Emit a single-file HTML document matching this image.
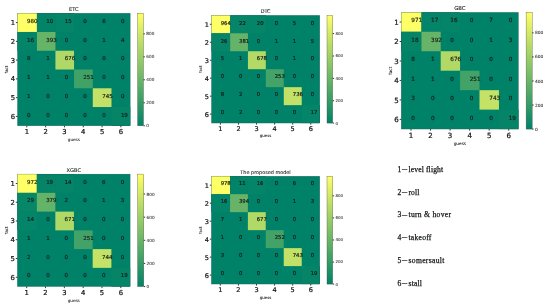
<!DOCTYPE html>
<html lang="en"><head><meta charset="utf-8"><title>Confusion matrices</title>
<style>html,body{margin:0;padding:0;background:#fff}body{width:550px;height:307px;overflow:hidden}svg{display:block}text{font-family:"DejaVu Sans","Liberation Sans",sans-serif;fill:#151c19;stroke:#151c19;stroke-width:0.17px}.c{stroke-width:0.06px;fill:#2a2a2a;stroke:#2a2a2a}.k{stroke-width:0.24px}.t{stroke-width:0.08px}.lg{font-family:"Liberation Serif","DejaVu Serif",serif;fill:#111;stroke-width:0.25px}</style></head><body>
<svg width="550" height="307" viewBox="0 0 550 307">
<defs><linearGradient id="sm" x1="0" y1="1" x2="0" y2="0"><stop offset="0" stop-color="#008268"/><stop offset="1" stop-color="#ffff66"/></linearGradient></defs>
<rect width="550" height="307" fill="#fff"/>
<g>
<rect x="17.40" y="13.20" width="112.90" height="112.60" fill="#008268"/>
<rect x="17.40" y="13.20" width="19.52" height="18.77" fill="#ffff66"/>
<rect x="36.92" y="13.20" width="18.52" height="18.77" fill="#038368"/>
<rect x="55.43" y="13.20" width="18.62" height="18.77" fill="#048468"/>
<rect x="17.40" y="31.97" width="19.52" height="18.77" fill="#048468"/>
<rect x="36.92" y="31.97" width="18.52" height="18.77" fill="#66b468"/>
<rect x="55.43" y="50.73" width="18.62" height="18.77" fill="#b0d866"/>
<rect x="74.05" y="69.50" width="18.72" height="18.77" fill="#41a268"/>
<rect x="92.77" y="88.27" width="18.72" height="18.77" fill="#c2e166"/>
<rect x="111.48" y="107.03" width="18.82" height="18.77" fill="#058468"/>
<text x="27.11" y="22.83" font-size="5.50">980</text>
<text x="46.23" y="22.83" font-size="5.50">10</text>
<text x="64.69" y="22.83" font-size="5.50">15</text>
<text x="83.36" y="22.83" font-size="5.50">0</text>
<text x="102.17" y="22.83" font-size="5.50">6</text>
<text x="120.89" y="22.83" font-size="5.50">0</text>
<text x="27.11" y="41.60" font-size="5.50">16</text>
<text x="46.23" y="41.60" font-size="5.50">393</text>
<text x="64.69" y="41.60" font-size="5.50">0</text>
<text x="83.36" y="41.60" font-size="5.50">0</text>
<text x="102.17" y="41.60" font-size="5.50">1</text>
<text x="120.89" y="41.60" font-size="5.50">4</text>
<text x="27.11" y="60.37" font-size="5.50">8</text>
<text x="46.23" y="60.37" font-size="5.50">1</text>
<text x="64.69" y="60.37" font-size="5.50">676</text>
<text x="83.36" y="60.37" font-size="5.50">0</text>
<text x="102.17" y="60.37" font-size="5.50">0</text>
<text x="120.89" y="60.37" font-size="5.50">0</text>
<text x="27.11" y="79.13" font-size="5.50">1</text>
<text x="46.23" y="79.13" font-size="5.50">1</text>
<text x="64.69" y="79.13" font-size="5.50">0</text>
<text x="83.36" y="79.13" font-size="5.50">251</text>
<text x="102.17" y="79.13" font-size="5.50">0</text>
<text x="120.89" y="79.13" font-size="5.50">0</text>
<text x="27.11" y="97.90" font-size="5.50">1</text>
<text x="46.23" y="97.90" font-size="5.50">0</text>
<text x="64.69" y="97.90" font-size="5.50">0</text>
<text x="83.36" y="97.90" font-size="5.50">0</text>
<text x="102.17" y="97.90" font-size="5.50">745</text>
<text x="120.89" y="97.90" font-size="5.50">0</text>
<text x="27.11" y="116.67" font-size="5.50">0</text>
<text x="46.23" y="116.67" font-size="5.50">0</text>
<text x="64.69" y="116.67" font-size="5.50">0</text>
<text x="83.36" y="116.67" font-size="5.50">0</text>
<text x="102.17" y="116.67" font-size="5.50">0</text>
<text x="120.89" y="116.67" font-size="5.50">19</text>
<rect x="17.40" y="13.20" width="112.90" height="112.60" fill="none" stroke="#223" stroke-opacity="0.45" stroke-width="0.35"/>
<path d="M15.90 22.58H17.40M26.81 125.80V127.30" stroke="#000" stroke-width="0.8" fill="none"/>
<text x="15.00" y="25.08" font-size="6.79" text-anchor="end" class="k">1</text>
<text x="26.81" y="134.14" font-size="6.79" text-anchor="middle" class="k">1</text>
<path d="M15.90 41.35H17.40M45.62 125.80V127.30" stroke="#000" stroke-width="0.8" fill="none"/>
<text x="15.00" y="43.85" font-size="6.79" text-anchor="end" class="k">2</text>
<text x="45.62" y="134.14" font-size="6.79" text-anchor="middle" class="k">2</text>
<path d="M15.90 60.12H17.40M64.44 125.80V127.30" stroke="#000" stroke-width="0.8" fill="none"/>
<text x="15.00" y="62.61" font-size="6.79" text-anchor="end" class="k">3</text>
<text x="64.44" y="134.14" font-size="6.79" text-anchor="middle" class="k">3</text>
<path d="M15.90 78.88H17.40M83.26 125.80V127.30" stroke="#000" stroke-width="0.8" fill="none"/>
<text x="15.00" y="81.38" font-size="6.79" text-anchor="end" class="k">4</text>
<text x="83.26" y="134.14" font-size="6.79" text-anchor="middle" class="k">4</text>
<path d="M15.90 97.65H17.40M102.07 125.80V127.30" stroke="#000" stroke-width="0.8" fill="none"/>
<text x="15.00" y="100.15" font-size="6.79" text-anchor="end" class="k">5</text>
<text x="102.07" y="134.14" font-size="6.79" text-anchor="middle" class="k">5</text>
<path d="M15.90 116.42H17.40M120.89 125.80V127.30" stroke="#000" stroke-width="0.8" fill="none"/>
<text x="15.00" y="118.91" font-size="6.79" text-anchor="end" class="k">6</text>
<text x="120.89" y="134.14" font-size="6.79" text-anchor="middle" class="k">6</text>
<text x="73.85" y="10.85" font-size="5.12" text-anchor="middle" class="t">ETC</text>
<text x="73.85" y="140.79" font-size="4.10" text-anchor="middle" class="t">guess</text>
<text transform="translate(8.11 69.50) rotate(-90)" font-size="4.10" text-anchor="middle" class="t">fact</text>
<rect x="137.60" y="13.20" width="5.90" height="112.60" fill="url(#sm)" stroke="#4a4a3a" stroke-width="0.35"/>
<path d="M143.50 125.80h1.4" stroke="#000" stroke-width="0.8" fill="none"/>
<text x="146.30" y="127.30" font-size="4.20" class="c">0</text>
<path d="M143.50 102.82h1.4" stroke="#000" stroke-width="0.8" fill="none"/>
<text x="146.30" y="104.32" font-size="4.20" class="c">200</text>
<path d="M143.50 79.84h1.4" stroke="#000" stroke-width="0.8" fill="none"/>
<text x="146.30" y="81.34" font-size="4.20" class="c">400</text>
<path d="M143.50 56.86h1.4" stroke="#000" stroke-width="0.8" fill="none"/>
<text x="146.30" y="58.36" font-size="4.20" class="c">600</text>
<path d="M143.50 33.88h1.4" stroke="#000" stroke-width="0.8" fill="none"/>
<text x="146.30" y="35.38" font-size="4.20" class="c">800</text>
</g>
<g>
<rect x="211.40" y="15.30" width="108.40" height="107.80" fill="#008268"/>
<rect x="211.40" y="15.30" width="18.77" height="17.97" fill="#ffff66"/>
<rect x="230.17" y="15.30" width="17.77" height="17.97" fill="#068568"/>
<rect x="247.93" y="15.30" width="17.87" height="17.97" fill="#058568"/>
<rect x="211.40" y="33.27" width="18.77" height="17.97" fill="#078568"/>
<rect x="230.17" y="33.27" width="17.77" height="17.97" fill="#65b368"/>
<rect x="247.93" y="51.23" width="17.87" height="17.97" fill="#b3da66"/>
<rect x="265.80" y="69.20" width="17.97" height="17.97" fill="#43a368"/>
<rect x="283.77" y="87.17" width="17.97" height="17.97" fill="#c3e166"/>
<rect x="301.73" y="105.13" width="18.07" height="17.97" fill="#048468"/>
<text x="220.73" y="24.53" font-size="5.28">964</text>
<text x="239.10" y="24.53" font-size="5.28">22</text>
<text x="256.82" y="24.53" font-size="5.28">20</text>
<text x="274.73" y="24.53" font-size="5.28">0</text>
<text x="292.80" y="24.53" font-size="5.28">5</text>
<text x="310.77" y="24.53" font-size="5.28">0</text>
<text x="220.73" y="42.50" font-size="5.28">26</text>
<text x="239.10" y="42.50" font-size="5.28">381</text>
<text x="256.82" y="42.50" font-size="5.28">0</text>
<text x="274.73" y="42.50" font-size="5.28">1</text>
<text x="292.80" y="42.50" font-size="5.28">1</text>
<text x="310.77" y="42.50" font-size="5.28">5</text>
<text x="220.73" y="60.47" font-size="5.28">5</text>
<text x="239.10" y="60.47" font-size="5.28">1</text>
<text x="256.82" y="60.47" font-size="5.28">678</text>
<text x="274.73" y="60.47" font-size="5.28">0</text>
<text x="292.80" y="60.47" font-size="5.28">1</text>
<text x="310.77" y="60.47" font-size="5.28">0</text>
<text x="220.73" y="78.43" font-size="5.28">0</text>
<text x="239.10" y="78.43" font-size="5.28">0</text>
<text x="256.82" y="78.43" font-size="5.28">0</text>
<text x="274.73" y="78.43" font-size="5.28">253</text>
<text x="292.80" y="78.43" font-size="5.28">0</text>
<text x="310.77" y="78.43" font-size="5.28">0</text>
<text x="220.73" y="96.40" font-size="5.28">8</text>
<text x="239.10" y="96.40" font-size="5.28">2</text>
<text x="256.82" y="96.40" font-size="5.28">0</text>
<text x="274.73" y="96.40" font-size="5.28">0</text>
<text x="292.80" y="96.40" font-size="5.28">736</text>
<text x="310.77" y="96.40" font-size="5.28">0</text>
<text x="220.73" y="114.37" font-size="5.28">0</text>
<text x="239.10" y="114.37" font-size="5.28">2</text>
<text x="256.82" y="114.37" font-size="5.28">0</text>
<text x="274.73" y="114.37" font-size="5.28">0</text>
<text x="292.80" y="114.37" font-size="5.28">0</text>
<text x="310.77" y="114.37" font-size="5.28">17</text>
<rect x="211.40" y="15.30" width="108.40" height="107.80" fill="none" stroke="#223" stroke-opacity="0.45" stroke-width="0.35"/>
<path d="M209.90 24.28H211.40M220.43 123.10V124.60" stroke="#000" stroke-width="0.8" fill="none"/>
<text x="209.00" y="26.68" font-size="6.52" text-anchor="end" class="k">1</text>
<text x="220.43" y="131.11" font-size="6.52" text-anchor="middle" class="k">1</text>
<path d="M209.90 42.25H211.40M238.50 123.10V124.60" stroke="#000" stroke-width="0.8" fill="none"/>
<text x="209.00" y="44.65" font-size="6.52" text-anchor="end" class="k">2</text>
<text x="238.50" y="131.11" font-size="6.52" text-anchor="middle" class="k">2</text>
<path d="M209.90 60.22H211.40M256.57 123.10V124.60" stroke="#000" stroke-width="0.8" fill="none"/>
<text x="209.00" y="62.61" font-size="6.52" text-anchor="end" class="k">3</text>
<text x="256.57" y="131.11" font-size="6.52" text-anchor="middle" class="k">3</text>
<path d="M209.90 78.18H211.40M274.63 123.10V124.60" stroke="#000" stroke-width="0.8" fill="none"/>
<text x="209.00" y="80.58" font-size="6.52" text-anchor="end" class="k">4</text>
<text x="274.63" y="131.11" font-size="6.52" text-anchor="middle" class="k">4</text>
<path d="M209.90 96.15H211.40M292.70 123.10V124.60" stroke="#000" stroke-width="0.8" fill="none"/>
<text x="209.00" y="98.55" font-size="6.52" text-anchor="end" class="k">5</text>
<text x="292.70" y="131.11" font-size="6.52" text-anchor="middle" class="k">5</text>
<path d="M209.90 114.12H211.40M310.77 123.10V124.60" stroke="#000" stroke-width="0.8" fill="none"/>
<text x="209.00" y="116.51" font-size="6.52" text-anchor="end" class="k">6</text>
<text x="310.77" y="131.11" font-size="6.52" text-anchor="middle" class="k">6</text>
<text x="265.60" y="12.95" font-size="4.91" text-anchor="middle" class="t">DTC</text>
<text x="265.60" y="137.49" font-size="3.93" text-anchor="middle" class="t">guess</text>
<text transform="translate(202.48 69.20) rotate(-90)" font-size="3.93" text-anchor="middle" class="t">fact</text>
<rect x="327.00" y="15.30" width="5.70" height="107.80" fill="url(#sm)" stroke="#4a4a3a" stroke-width="0.35"/>
<path d="M332.70 123.10h1.4" stroke="#000" stroke-width="0.8" fill="none"/>
<text x="335.50" y="124.54" font-size="4.03" class="c">0</text>
<path d="M332.70 100.73h1.4" stroke="#000" stroke-width="0.8" fill="none"/>
<text x="335.50" y="102.17" font-size="4.03" class="c">200</text>
<path d="M332.70 78.37h1.4" stroke="#000" stroke-width="0.8" fill="none"/>
<text x="335.50" y="79.81" font-size="4.03" class="c">400</text>
<path d="M332.70 56.00h1.4" stroke="#000" stroke-width="0.8" fill="none"/>
<text x="335.50" y="57.44" font-size="4.03" class="c">600</text>
<path d="M332.70 33.64h1.4" stroke="#000" stroke-width="0.8" fill="none"/>
<text x="335.50" y="35.08" font-size="4.03" class="c">800</text>
</g>
<g>
<rect x="401.20" y="12.30" width="117.30" height="116.80" fill="#008268"/>
<rect x="401.20" y="12.30" width="20.25" height="19.47" fill="#ffff66"/>
<rect x="421.45" y="12.30" width="19.25" height="19.47" fill="#048468"/>
<rect x="440.70" y="12.30" width="19.35" height="19.47" fill="#048468"/>
<rect x="401.20" y="31.77" width="20.25" height="19.47" fill="#058468"/>
<rect x="421.45" y="31.77" width="19.25" height="19.47" fill="#67b468"/>
<rect x="440.70" y="51.23" width="19.35" height="19.47" fill="#b2d966"/>
<rect x="460.05" y="70.70" width="19.45" height="19.47" fill="#42a268"/>
<rect x="479.50" y="90.17" width="19.45" height="19.47" fill="#c3e266"/>
<rect x="498.95" y="109.63" width="19.55" height="19.47" fill="#058468"/>
<text x="411.27" y="22.28" font-size="5.71">971</text>
<text x="431.12" y="22.28" font-size="5.71">17</text>
<text x="450.32" y="22.28" font-size="5.71">16</text>
<text x="469.72" y="22.28" font-size="5.71">0</text>
<text x="489.27" y="22.28" font-size="5.71">7</text>
<text x="508.73" y="22.28" font-size="5.71">0</text>
<text x="411.27" y="41.75" font-size="5.71">18</text>
<text x="431.12" y="41.75" font-size="5.71">392</text>
<text x="450.32" y="41.75" font-size="5.71">0</text>
<text x="469.72" y="41.75" font-size="5.71">0</text>
<text x="489.27" y="41.75" font-size="5.71">1</text>
<text x="508.73" y="41.75" font-size="5.71">3</text>
<text x="411.27" y="61.22" font-size="5.71">8</text>
<text x="431.12" y="61.22" font-size="5.71">1</text>
<text x="450.32" y="61.22" font-size="5.71">676</text>
<text x="469.72" y="61.22" font-size="5.71">0</text>
<text x="489.27" y="61.22" font-size="5.71">0</text>
<text x="508.73" y="61.22" font-size="5.71">0</text>
<text x="411.27" y="80.68" font-size="5.71">1</text>
<text x="431.12" y="80.68" font-size="5.71">1</text>
<text x="450.32" y="80.68" font-size="5.71">0</text>
<text x="469.72" y="80.68" font-size="5.71">251</text>
<text x="489.27" y="80.68" font-size="5.71">0</text>
<text x="508.73" y="80.68" font-size="5.71">0</text>
<text x="411.27" y="100.15" font-size="5.71">3</text>
<text x="431.12" y="100.15" font-size="5.71">0</text>
<text x="450.32" y="100.15" font-size="5.71">0</text>
<text x="469.72" y="100.15" font-size="5.71">0</text>
<text x="489.27" y="100.15" font-size="5.71">743</text>
<text x="508.73" y="100.15" font-size="5.71">0</text>
<text x="411.27" y="119.62" font-size="5.71">0</text>
<text x="431.12" y="119.62" font-size="5.71">0</text>
<text x="450.32" y="119.62" font-size="5.71">0</text>
<text x="469.72" y="119.62" font-size="5.71">0</text>
<text x="489.27" y="119.62" font-size="5.71">0</text>
<text x="508.73" y="119.62" font-size="5.71">19</text>
<rect x="401.20" y="12.30" width="117.30" height="116.80" fill="none" stroke="#223" stroke-opacity="0.45" stroke-width="0.35"/>
<path d="M399.70 22.03H401.20M410.97 129.10V130.60" stroke="#000" stroke-width="0.8" fill="none"/>
<text x="398.80" y="24.63" font-size="7.06" text-anchor="end" class="k">1</text>
<text x="410.97" y="137.77" font-size="7.06" text-anchor="middle" class="k">1</text>
<path d="M399.70 41.50H401.20M430.52 129.10V130.60" stroke="#000" stroke-width="0.8" fill="none"/>
<text x="398.80" y="44.10" font-size="7.06" text-anchor="end" class="k">2</text>
<text x="430.52" y="137.77" font-size="7.06" text-anchor="middle" class="k">2</text>
<path d="M399.70 60.97H401.20M450.07 129.10V130.60" stroke="#000" stroke-width="0.8" fill="none"/>
<text x="398.80" y="63.56" font-size="7.06" text-anchor="end" class="k">3</text>
<text x="450.07" y="137.77" font-size="7.06" text-anchor="middle" class="k">3</text>
<path d="M399.70 80.43H401.20M469.62 129.10V130.60" stroke="#000" stroke-width="0.8" fill="none"/>
<text x="398.80" y="83.03" font-size="7.06" text-anchor="end" class="k">4</text>
<text x="469.62" y="137.77" font-size="7.06" text-anchor="middle" class="k">4</text>
<path d="M399.70 99.90H401.20M489.18 129.10V130.60" stroke="#000" stroke-width="0.8" fill="none"/>
<text x="398.80" y="102.50" font-size="7.06" text-anchor="end" class="k">5</text>
<text x="489.18" y="137.77" font-size="7.06" text-anchor="middle" class="k">5</text>
<path d="M399.70 119.37H401.20M508.73 129.10V130.60" stroke="#000" stroke-width="0.8" fill="none"/>
<text x="398.80" y="121.96" font-size="7.06" text-anchor="end" class="k">6</text>
<text x="508.73" y="137.77" font-size="7.06" text-anchor="middle" class="k">6</text>
<text x="459.85" y="9.95" font-size="5.31" text-anchor="middle" class="t">GBC</text>
<text x="459.85" y="144.67" font-size="4.26" text-anchor="middle" class="t">guess</text>
<text transform="translate(391.55 70.70) rotate(-90)" font-size="4.26" text-anchor="middle" class="t">fact</text>
<rect x="526.10" y="12.30" width="6.10" height="116.80" fill="url(#sm)" stroke="#4a4a3a" stroke-width="0.35"/>
<path d="M532.20 129.10h1.4" stroke="#000" stroke-width="0.8" fill="none"/>
<text x="535.00" y="130.66" font-size="4.36" class="c">0</text>
<path d="M532.20 105.04h1.4" stroke="#000" stroke-width="0.8" fill="none"/>
<text x="535.00" y="106.60" font-size="4.36" class="c">200</text>
<path d="M532.20 80.98h1.4" stroke="#000" stroke-width="0.8" fill="none"/>
<text x="535.00" y="82.54" font-size="4.36" class="c">400</text>
<path d="M532.20 56.93h1.4" stroke="#000" stroke-width="0.8" fill="none"/>
<text x="535.00" y="58.48" font-size="4.36" class="c">600</text>
<path d="M532.20 32.87h1.4" stroke="#000" stroke-width="0.8" fill="none"/>
<text x="535.00" y="34.43" font-size="4.36" class="c">800</text>
</g>
<g>
<rect x="17.30" y="174.10" width="112.90" height="112.50" fill="#008268"/>
<rect x="17.30" y="174.10" width="19.52" height="18.75" fill="#ffff66"/>
<rect x="36.82" y="174.10" width="18.52" height="18.75" fill="#058468"/>
<rect x="55.33" y="174.10" width="18.62" height="18.75" fill="#048468"/>
<rect x="17.30" y="192.85" width="19.52" height="18.75" fill="#088668"/>
<rect x="36.82" y="192.85" width="18.52" height="18.75" fill="#63b368"/>
<rect x="17.30" y="211.60" width="19.52" height="18.75" fill="#048468"/>
<rect x="55.33" y="211.60" width="18.62" height="18.75" fill="#b0d866"/>
<rect x="73.95" y="230.35" width="18.72" height="18.75" fill="#42a268"/>
<rect x="92.67" y="249.10" width="18.72" height="18.75" fill="#c3e266"/>
<rect x="111.38" y="267.85" width="18.82" height="18.75" fill="#058468"/>
<text x="27.01" y="183.72" font-size="5.50">972</text>
<text x="46.13" y="183.72" font-size="5.50">19</text>
<text x="64.59" y="183.72" font-size="5.50">14</text>
<text x="83.26" y="183.72" font-size="5.50">0</text>
<text x="102.08" y="183.72" font-size="5.50">6</text>
<text x="120.79" y="183.72" font-size="5.50">0</text>
<text x="27.01" y="202.47" font-size="5.50">29</text>
<text x="46.13" y="202.47" font-size="5.50">379</text>
<text x="64.59" y="202.47" font-size="5.50">2</text>
<text x="83.26" y="202.47" font-size="5.50">0</text>
<text x="102.08" y="202.47" font-size="5.50">1</text>
<text x="120.79" y="202.47" font-size="5.50">3</text>
<text x="27.01" y="221.22" font-size="5.50">14</text>
<text x="46.13" y="221.22" font-size="5.50">0</text>
<text x="64.59" y="221.22" font-size="5.50">671</text>
<text x="83.26" y="221.22" font-size="5.50">0</text>
<text x="102.08" y="221.22" font-size="5.50">0</text>
<text x="120.79" y="221.22" font-size="5.50">0</text>
<text x="27.01" y="239.98" font-size="5.50">1</text>
<text x="46.13" y="239.98" font-size="5.50">1</text>
<text x="64.59" y="239.98" font-size="5.50">0</text>
<text x="83.26" y="239.98" font-size="5.50">251</text>
<text x="102.08" y="239.98" font-size="5.50">0</text>
<text x="120.79" y="239.98" font-size="5.50">0</text>
<text x="27.01" y="258.73" font-size="5.50">2</text>
<text x="46.13" y="258.73" font-size="5.50">0</text>
<text x="64.59" y="258.73" font-size="5.50">0</text>
<text x="83.26" y="258.73" font-size="5.50">0</text>
<text x="102.08" y="258.73" font-size="5.50">744</text>
<text x="120.79" y="258.73" font-size="5.50">0</text>
<text x="27.01" y="277.48" font-size="5.50">0</text>
<text x="46.13" y="277.48" font-size="5.50">0</text>
<text x="64.59" y="277.48" font-size="5.50">0</text>
<text x="83.26" y="277.48" font-size="5.50">0</text>
<text x="102.08" y="277.48" font-size="5.50">0</text>
<text x="120.79" y="277.48" font-size="5.50">19</text>
<rect x="17.30" y="174.10" width="112.90" height="112.50" fill="none" stroke="#223" stroke-opacity="0.45" stroke-width="0.35"/>
<path d="M15.80 183.47H17.30M26.71 286.60V288.10" stroke="#000" stroke-width="0.8" fill="none"/>
<text x="14.90" y="185.97" font-size="6.79" text-anchor="end" class="k">1</text>
<text x="26.71" y="294.94" font-size="6.79" text-anchor="middle" class="k">1</text>
<path d="M15.80 202.22H17.30M45.53 286.60V288.10" stroke="#000" stroke-width="0.8" fill="none"/>
<text x="14.90" y="204.72" font-size="6.79" text-anchor="end" class="k">2</text>
<text x="45.53" y="294.94" font-size="6.79" text-anchor="middle" class="k">2</text>
<path d="M15.80 220.97H17.30M64.34 286.60V288.10" stroke="#000" stroke-width="0.8" fill="none"/>
<text x="14.90" y="223.47" font-size="6.79" text-anchor="end" class="k">3</text>
<text x="64.34" y="294.94" font-size="6.79" text-anchor="middle" class="k">3</text>
<path d="M15.80 239.73H17.30M83.16 286.60V288.10" stroke="#000" stroke-width="0.8" fill="none"/>
<text x="14.90" y="242.22" font-size="6.79" text-anchor="end" class="k">4</text>
<text x="83.16" y="294.94" font-size="6.79" text-anchor="middle" class="k">4</text>
<path d="M15.80 258.48H17.30M101.97 286.60V288.10" stroke="#000" stroke-width="0.8" fill="none"/>
<text x="14.90" y="260.97" font-size="6.79" text-anchor="end" class="k">5</text>
<text x="101.97" y="294.94" font-size="6.79" text-anchor="middle" class="k">5</text>
<path d="M15.80 277.23H17.30M120.79 286.60V288.10" stroke="#000" stroke-width="0.8" fill="none"/>
<text x="14.90" y="279.72" font-size="6.79" text-anchor="end" class="k">6</text>
<text x="120.79" y="294.94" font-size="6.79" text-anchor="middle" class="k">6</text>
<text x="73.75" y="171.75" font-size="5.12" text-anchor="middle" class="t">XGBC</text>
<text x="73.75" y="301.59" font-size="4.10" text-anchor="middle" class="t">guess</text>
<text transform="translate(8.01 230.35) rotate(-90)" font-size="4.10" text-anchor="middle" class="t">fact</text>
<rect x="137.60" y="174.10" width="6.20" height="112.50" fill="url(#sm)" stroke="#4a4a3a" stroke-width="0.35"/>
<path d="M143.80 286.60h1.4" stroke="#000" stroke-width="0.8" fill="none"/>
<text x="146.60" y="288.10" font-size="4.20" class="c">0</text>
<path d="M143.80 263.45h1.4" stroke="#000" stroke-width="0.8" fill="none"/>
<text x="146.60" y="264.95" font-size="4.20" class="c">200</text>
<path d="M143.80 240.30h1.4" stroke="#000" stroke-width="0.8" fill="none"/>
<text x="146.60" y="241.80" font-size="4.20" class="c">400</text>
<path d="M143.80 217.16h1.4" stroke="#000" stroke-width="0.8" fill="none"/>
<text x="146.60" y="218.65" font-size="4.20" class="c">600</text>
<path d="M143.80 194.01h1.4" stroke="#000" stroke-width="0.8" fill="none"/>
<text x="146.60" y="195.51" font-size="4.20" class="c">800</text>
</g>
<g>
<rect x="211.30" y="176.20" width="108.50" height="107.90" fill="#008268"/>
<rect x="211.30" y="176.20" width="18.78" height="17.98" fill="#ffff66"/>
<rect x="230.08" y="176.20" width="17.78" height="17.98" fill="#038368"/>
<rect x="247.87" y="176.20" width="17.88" height="17.98" fill="#048468"/>
<rect x="211.30" y="194.18" width="18.78" height="17.98" fill="#048468"/>
<rect x="230.08" y="194.18" width="17.78" height="17.98" fill="#67b468"/>
<rect x="247.87" y="212.17" width="17.88" height="17.98" fill="#b1d966"/>
<rect x="265.75" y="230.15" width="17.98" height="17.98" fill="#42a268"/>
<rect x="283.73" y="248.13" width="17.98" height="17.98" fill="#c2e166"/>
<rect x="301.72" y="266.12" width="18.08" height="17.98" fill="#058468"/>
<text x="220.64" y="185.44" font-size="5.28">978</text>
<text x="239.03" y="185.44" font-size="5.28">11</text>
<text x="256.76" y="185.44" font-size="5.28">16</text>
<text x="274.69" y="185.44" font-size="5.28">0</text>
<text x="292.77" y="185.44" font-size="5.28">6</text>
<text x="310.76" y="185.44" font-size="5.28">0</text>
<text x="220.64" y="203.43" font-size="5.28">16</text>
<text x="239.03" y="203.43" font-size="5.28">394</text>
<text x="256.76" y="203.43" font-size="5.28">0</text>
<text x="274.69" y="203.43" font-size="5.28">0</text>
<text x="292.77" y="203.43" font-size="5.28">1</text>
<text x="310.76" y="203.43" font-size="5.28">3</text>
<text x="220.64" y="221.41" font-size="5.28">7</text>
<text x="239.03" y="221.41" font-size="5.28">1</text>
<text x="256.76" y="221.41" font-size="5.28">677</text>
<text x="274.69" y="221.41" font-size="5.28">0</text>
<text x="292.77" y="221.41" font-size="5.28">0</text>
<text x="310.76" y="221.41" font-size="5.28">0</text>
<text x="220.64" y="239.39" font-size="5.28">1</text>
<text x="239.03" y="239.39" font-size="5.28">0</text>
<text x="256.76" y="239.39" font-size="5.28">0</text>
<text x="274.69" y="239.39" font-size="5.28">252</text>
<text x="292.77" y="239.39" font-size="5.28">0</text>
<text x="310.76" y="239.39" font-size="5.28">0</text>
<text x="220.64" y="257.38" font-size="5.28">3</text>
<text x="239.03" y="257.38" font-size="5.28">0</text>
<text x="256.76" y="257.38" font-size="5.28">0</text>
<text x="274.69" y="257.38" font-size="5.28">0</text>
<text x="292.77" y="257.38" font-size="5.28">743</text>
<text x="310.76" y="257.38" font-size="5.28">0</text>
<text x="220.64" y="275.36" font-size="5.28">0</text>
<text x="239.03" y="275.36" font-size="5.28">0</text>
<text x="256.76" y="275.36" font-size="5.28">0</text>
<text x="274.69" y="275.36" font-size="5.28">0</text>
<text x="292.77" y="275.36" font-size="5.28">0</text>
<text x="310.76" y="275.36" font-size="5.28">19</text>
<rect x="211.30" y="176.20" width="108.50" height="107.90" fill="none" stroke="#223" stroke-opacity="0.45" stroke-width="0.35"/>
<path d="M209.80 185.19H211.30M220.34 284.10V285.60" stroke="#000" stroke-width="0.8" fill="none"/>
<text x="208.90" y="187.59" font-size="6.53" text-anchor="end" class="k">1</text>
<text x="220.34" y="292.12" font-size="6.53" text-anchor="middle" class="k">1</text>
<path d="M209.80 203.18H211.30M238.43 284.10V285.60" stroke="#000" stroke-width="0.8" fill="none"/>
<text x="208.90" y="205.58" font-size="6.53" text-anchor="end" class="k">2</text>
<text x="238.43" y="292.12" font-size="6.53" text-anchor="middle" class="k">2</text>
<path d="M209.80 221.16H211.30M256.51 284.10V285.60" stroke="#000" stroke-width="0.8" fill="none"/>
<text x="208.90" y="223.56" font-size="6.53" text-anchor="end" class="k">3</text>
<text x="256.51" y="292.12" font-size="6.53" text-anchor="middle" class="k">3</text>
<path d="M209.80 239.14H211.30M274.59 284.10V285.60" stroke="#000" stroke-width="0.8" fill="none"/>
<text x="208.90" y="241.54" font-size="6.53" text-anchor="end" class="k">4</text>
<text x="274.59" y="292.12" font-size="6.53" text-anchor="middle" class="k">4</text>
<path d="M209.80 257.12H211.30M292.68 284.10V285.60" stroke="#000" stroke-width="0.8" fill="none"/>
<text x="208.90" y="259.53" font-size="6.53" text-anchor="end" class="k">5</text>
<text x="292.68" y="292.12" font-size="6.53" text-anchor="middle" class="k">5</text>
<path d="M209.80 275.11H211.30M310.76 284.10V285.60" stroke="#000" stroke-width="0.8" fill="none"/>
<text x="208.90" y="277.51" font-size="6.53" text-anchor="end" class="k">6</text>
<text x="310.76" y="292.12" font-size="6.53" text-anchor="middle" class="k">6</text>
<text x="265.55" y="173.85" font-size="4.92" text-anchor="middle" class="t">The proposed model</text>
<text x="265.55" y="298.50" font-size="3.94" text-anchor="middle" class="t">guess</text>
<text transform="translate(202.37 230.15) rotate(-90)" font-size="3.94" text-anchor="middle" class="t">fact</text>
<rect x="327.00" y="176.20" width="5.70" height="107.90" fill="url(#sm)" stroke="#4a4a3a" stroke-width="0.35"/>
<path d="M332.70 284.10h1.4" stroke="#000" stroke-width="0.8" fill="none"/>
<text x="335.50" y="285.54" font-size="4.03" class="c">0</text>
<path d="M332.70 262.03h1.4" stroke="#000" stroke-width="0.8" fill="none"/>
<text x="335.50" y="263.47" font-size="4.03" class="c">200</text>
<path d="M332.70 239.97h1.4" stroke="#000" stroke-width="0.8" fill="none"/>
<text x="335.50" y="241.41" font-size="4.03" class="c">400</text>
<path d="M332.70 217.90h1.4" stroke="#000" stroke-width="0.8" fill="none"/>
<text x="335.50" y="219.34" font-size="4.03" class="c">600</text>
<path d="M332.70 195.84h1.4" stroke="#000" stroke-width="0.8" fill="none"/>
<text x="335.50" y="197.28" font-size="4.03" class="c">800</text>
</g>
<text class="lg" y="171.80" font-size="7.6"><tspan x="397.4">1</tspan><tspan x="402.0" dy="-0.7" font-size="5.2" stroke="#111" stroke-width="0.3">—</tspan><tspan x="408.5" dy="0.7" textLength="34.6" lengthAdjust="spacing">level flight</tspan></text>
<text class="lg" y="194.55" font-size="7.6"><tspan x="397.4">2</tspan><tspan x="402.0" dy="-0.7" font-size="5.2" stroke="#111" stroke-width="0.3">—</tspan><tspan x="408.5" dy="0.7" textLength="10.8" lengthAdjust="spacing">roll</tspan></text>
<text class="lg" y="217.30" font-size="7.6"><tspan x="397.4">3</tspan><tspan x="402.0" dy="-0.7" font-size="5.2" stroke="#111" stroke-width="0.3">—</tspan><tspan x="408.5" dy="0.7" textLength="42.5" lengthAdjust="spacing">turn &amp; hover</tspan></text>
<text class="lg" y="240.05" font-size="7.6"><tspan x="397.4">4</tspan><tspan x="402.0" dy="-0.7" font-size="5.2" stroke="#111" stroke-width="0.3">—</tspan><tspan x="408.5" dy="0.7" textLength="22.9" lengthAdjust="spacing">takeoff</tspan></text>
<text class="lg" y="262.80" font-size="7.6"><tspan x="397.4">5</tspan><tspan x="402.0" dy="-0.7" font-size="5.2" stroke="#111" stroke-width="0.3">—</tspan><tspan x="408.5" dy="0.7" textLength="35.8" lengthAdjust="spacing">somersault</tspan></text>
<text class="lg" y="285.55" font-size="7.6"><tspan x="397.4">6</tspan><tspan x="402.0" dy="-0.7" font-size="5.2" stroke="#111" stroke-width="0.3">—</tspan><tspan x="408.5" dy="0.7" textLength="13.4" lengthAdjust="spacing">stall</tspan></text>
</svg></body></html>
